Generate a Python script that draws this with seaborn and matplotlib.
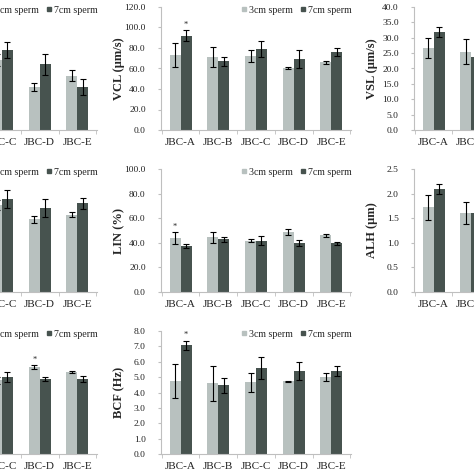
import numpy as np
import pandas as pd
import matplotlib
matplotlib.use("Agg")
import matplotlib.pyplot as plt
import seaborn as sns
from matplotlib.lines import Line2D
from matplotlib.ticker import FormatStrFormatter, FixedLocator

# categories and series
groups = ["JBC-A", "JBC-B", "JBC-C", "JBC-D", "JBC-E"]
series = ["3cm sperm", "7cm sperm"]

# VAP (left column, top) - only partly visible
vap_3 = [58.0, 55.0, 68.0, 42.0, 53.0]
vap_3_sd = [8.0, 7.0, 6.0, 3.5, 5.5]
vap_7 = [74.0, 60.0, 78.0, 64.0, 42.0]
vap_7_sd = [9.0, 8.0, 8.0, 10.5, 7.5]

# VCL
vcl_3 = [73.0, 71.0, 72.0, 60.5, 66.0]
vcl_3_sd = [11.5, 10.0, 6.0, 1.0, 1.5]
vcl_7 = [92.0, 67.0, 79.0, 69.0, 76.0]
vcl_7_sd = [5.5, 4.5, 8.0, 9.0, 4.0]

# VSL
vsl_3 = [26.7, 25.5, 24.0, 22.5, 24.0]
vsl_3_sd = [3.2, 4.0, 2.5, 1.5, 2.0]
vsl_7 = [31.8, 23.6, 27.0, 25.0, 26.0]
vsl_7_sd = [1.7, 3.0, 2.5, 2.0, 2.0]

# STR (left column, middle)
str_3 = [72.0, 70.0, 71.0, 59.0, 63.0]
str_3_sd = [4.0, 5.0, 4.0, 2.5, 2.0]
str_7 = [80.0, 74.0, 75.5, 68.5, 72.0]
str_7_sd = [5.0, 6.0, 7.5, 7.5, 4.5]

# LIN
lin_3 = [44.0, 44.5, 41.7, 48.8, 46.0]
lin_3_sd = [5.0, 4.5, 1.0, 2.5, 1.0]
lin_7 = [37.4, 43.0, 41.7, 39.8, 39.5]
lin_7_sd = [2.0, 2.0, 3.5, 2.5, 1.5]

# ALH
alh_3 = [1.72, 1.60, 1.65, 1.55, 1.70]
alh_3_sd = [0.25, 0.22, 0.15, 0.10, 0.12]
alh_7 = [2.10, 1.60, 1.90, 1.75, 1.70]
alh_7_sd = [0.10, 0.20, 0.15, 0.20, 0.10]

# WOB (left column, bottom)
wob_3 = [62.0, 63.0, 60.0, 70.7, 66.7]
wob_3_sd = [3.0, 3.0, 3.0, 1.6, 0.5]
wob_7 = [60.0, 61.0, 62.6, 61.0, 61.0]
wob_7_sd = [2.5, 2.5, 3.7, 2.0, 2.5]

# BCF
bcf_3 = [4.76, 4.60, 4.68, 4.72, 5.00]
bcf_3_sd = [1.10, 1.15, 0.62, 0.03, 0.25]
bcf_7 = [7.08, 4.47, 5.60, 5.40, 5.40]
bcf_7_sd = [0.30, 0.50, 0.70, 0.60, 0.30]

# significance marks (*)
no_sig = [False] * 5
sig_a = [True, False, False, False, False]
sig_d = [False, False, False, True, False]

light = "#b8c1bf"
dark = "#47534f"

sns.set_style("white")
plt.rcParams["font.family"] = ["Liberation Serif", "DejaVu Serif"]

# (ylabel, ymax, step, m3, s3, m7, s7, sig3, sig7, col, row)
panels = [
    ("VAP (μm/s)", 120, 20, vap_3, vap_3_sd, vap_7, vap_7_sd, no_sig, no_sig, 0, 0),
    ("VCL (μm/s)", 120, 20, vcl_3, vcl_3_sd, vcl_7, vcl_7_sd, no_sig, sig_a, 1, 0),
    ("VSL (μm/s)", 40, 5, vsl_3, vsl_3_sd, vsl_7, vsl_7_sd, no_sig, no_sig, 2, 0),
    ("STR (%)", 100, 20, str_3, str_3_sd, str_7, str_7_sd, no_sig, no_sig, 0, 1),
    ("LIN (%)", 100, 20, lin_3, lin_3_sd, lin_7, lin_7_sd, sig_a, no_sig, 1, 1),
    ("ALH (μm)", 2.5, 0.5, alh_3, alh_3_sd, alh_7, alh_7_sd, no_sig, no_sig, 2, 1),
    ("WOB (%)", 100, 20, wob_3, wob_3_sd, wob_7, wob_7_sd, sig_d, no_sig, 0, 2),
    ("BCF (Hz)", 8, 1, bcf_3, bcf_3_sd, bcf_7, bcf_7_sd, no_sig, sig_a, 1, 2),
]

W = 474
col_left = [-93, 161, 414]
col_w = 190
row_top = [7, 169, 331]
row_h = 123

fig = plt.figure(figsize=(4.74, 4.74), dpi=100)

for ylabel, ymax, step, m3, s3, m7, s7, g3, g7, c, r in panels:
    rect = [col_left[c] / W, 1 - (row_top[r] + row_h) / W, col_w / W, row_h / W]
    ax = fig.add_axes(rect)
    df = pd.DataFrame({
        "group": groups * 2,
        "series": [series[0]] * 5 + [series[1]] * 5,
        "value": m3 + m7,
    })
    sds = [s3, s7]
    sigs = [g3, g7]
    sns.barplot(data=df, x="group", y="value", hue="series", hue_order=series,
                palette=[light, dark], width=0.58, gap=0, errorbar=None,
                saturation=1, linewidth=0, legend=False, ax=ax)

    for p in ax.patches:
        cx = p.get_x() + p.get_width() / 2
        h = p.get_height()
        i = int(round(cx))
        j = 0 if cx < i else 1
        sd = sds[j][i]
        ax.errorbar(cx, h, yerr=sd, color="black", lw=0.8,
                    capsize=2, capthick=0.8)
        if sigs[j][i]:
            ax.text(cx, h + sd + ymax * 0.01, "*", ha="center", va="bottom",
                    fontsize=6)

    ax.set_ylim(0, ymax)
    ax.set_yticks(np.arange(0, ymax + step / 2, step))
    ax.yaxis.set_major_formatter(FormatStrFormatter("%.1f"))
    ax.set_xlabel("")
    ax.set_ylabel(ylabel, fontsize=9, fontweight="bold")
    ax.yaxis.set_label_coords(-0.19, 0.5)

    for side in ["top", "right"]:
        ax.spines[side].set_visible(False)
    for side in ["left", "bottom"]:
        ax.spines[side].set_color("#bfbfbf")
        ax.spines[side].set_linewidth(0.8)

    ax.xaxis.set_minor_locator(FixedLocator(np.arange(-0.5, len(groups), 1)))
    ax.tick_params(axis="x", which="major", length=0, labelsize=8, pad=6,
                   colors="#222222")
    ax.tick_params(axis="x", which="minor", length=3, color="#bfbfbf",
                   direction="out", bottom=True)
    ax.tick_params(axis="y", length=2, color="#bfbfbf", labelsize=6.8,
                   pad=9, left=True)
    for lab in ax.get_yticklabels():
        lab.set_color("#222222")

    handles = [Line2D([], [], marker="s", linestyle="", color=col, markersize=3.5)
               for col in [light, dark]]
    ax.legend(handles, series, loc="upper right", bbox_to_anchor=(1.03, 1.05),
              frameon=False, ncol=2, fontsize=7.2, handletextpad=0.1,
              columnspacing=0.6, borderpad=0, handlelength=0.8)

fig.savefig("out.png", dpi=100)
